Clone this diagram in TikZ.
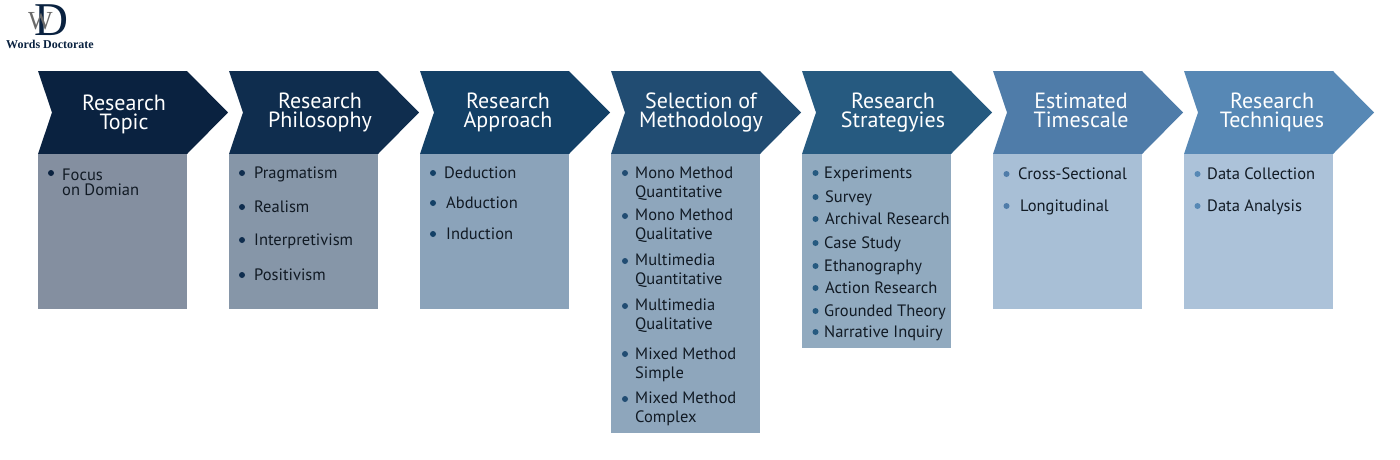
\documentclass[tikz,border=0pt]{standalone}
\usepackage{fontspec}
\setmainfont{PT Sans}
\newfontfamily\logofont{Liberation Serif}
\definecolor{hA}{HTML}{0A2240}\definecolor{bA}{HTML}{848FA0}
\definecolor{hB}{HTML}{0F2D4E}\definecolor{bB}{HTML}{8696A8}
\definecolor{hC}{HTML}{134066}\definecolor{bC}{HTML}{8BA3BA}
\definecolor{hD}{HTML}{214C72}\definecolor{bD}{HTML}{8EA6BC}
\definecolor{hE}{HTML}{265A80}\definecolor{bE}{HTML}{91AABF}
\definecolor{hF}{HTML}{4F7CA9}\definecolor{bF}{HTML}{A8BFD6}
\definecolor{hG}{HTML}{5788B5}\definecolor{bG}{HTML}{ACC2D9}
\definecolor{ink}{HTML}{111A24}
\definecolor{logogrey}{HTML}{6A6A6A}
\tikzset{
  x=1pt,y=-1pt,
  headtext/.style={inner sep=0pt,text=white,align=center,font=\fontsize{22}{19}\selectfont},
  itemtext/.style={inner sep=0pt,anchor=west,text=ink,align=left,text height=11pt,text depth=3pt,font=\fontsize{16.5}{18.8}\selectfont},
  dot/.style={circle,inner sep=0pt,minimum size=6pt},
}
\newcommand{\chev}[3]{%
  \fill[#2] (#1,71) -- (#1+149,71) -- (#1+190,112.5) -- (#1+149,154) -- (#1,154) -- (#1+14,112.5) -- cycle;
  \fill[#3] (#1,154) rectangle (#1+149,\bodyb);
}
\begin{document}
\begin{tikzpicture}
\useasboundingbox (0,0) rectangle (1400,459);
\fill[white] (0,0) rectangle (1400,459);
% logo
\node[inner sep=0pt,text=hA,font=\logofont\fontsize{47}{47}\selectfont] (logoD) at (51,20.5) {D};
\node[inner sep=0pt,text=logogrey,font=\logofont\fontsize{26}{26}\selectfont] (logoW) at (40.5,21.5) {W};
\node[inner sep=0pt,text=hA,font=\logofont\bfseries\fontsize{12}{12}\selectfont] (logoT) at (50,44) {Words Doctorate};
% chevrons and panels
\def\bodyb{309}\chev{38}{hA}{bA}
\def\bodyb{309}\chev{229}{hB}{bB}
\def\bodyb{309}\chev{420}{hC}{bC}
\def\bodyb{433}\chev{611}{hD}{bD}
\def\bodyb{348}\chev{802}{hE}{bE}
\def\bodyb{309}\chev{993}{hF}{bF}
\def\bodyb{309}\chev{1184}{hG}{bG}
% headings
\node[headtext] (h1) at (124,114.5) {Research\\Topic};
\node[headtext] (h2) at (320,112.5) {Research\\Philosophy};
\node[headtext] (h3) at (508,112.5) {Research\\Approach};
\node[headtext] (h4) at (701,112.5) {Selection of\\Methodology};
\node[headtext] (h5) at (893,112.5) {Research\\Strategyies};
\node[headtext] (h6) at (1081,110.5) {Estimated\\Timescale};
\node[headtext] (h7) at (1272,112.5) {Research\\Techniques};
% column 1
\node[dot,fill=hA] (d11) at (51,173) {};
\node[itemtext] (t11) at (62,191.5) {Focus\\[-3.8pt]on Domian};
% column 2
\foreach \n/\y/\t in {1/173/Pragmatism,2/207/Realism,3/240/Interpretivism,4/275/Positivism}{
  \node[dot,fill=hB] (d2\n) at (242,\y) {};
  \node[itemtext] (t2\n) at (254,\y+1.5) {\t};
}
% column 3
\node[dot,fill=hC] (d31) at (433,173) {};
\node[itemtext] (t31) at (444,174.5) {Deduction};
\node[dot,fill=hC] (d32) at (433,203) {};
\node[itemtext] (t32) at (446,204.5) {Abduction};
\node[dot,fill=hC] (d33) at (433,234) {};
\node[itemtext] (t33) at (446,235.5) {Induction};
% column 4
\foreach \n/\yb/\y/\t in {1/173/193.5/{Mono Method\\Quantitative},2/216/235.5/{Mono Method\\Qualitative},3/261/280.5/{Multimedia\\Quantitative},4/306/325.5/{Multimedia\\Qualitative},5/354/374.5/{Mixed Method\\Simple},6/399/418.5/{Mixed Method\\Complex}}{
  \node[dot,fill=hD] (d4\n) at (625,\yb) {};
  \node[itemtext] (t4\n) at (635,\y) {\t};
}
% column 5
\foreach \n/\y/\x/\t in {1/173/824/Experiments,2/197/825/Survey,3/219/825/Archival Research,4/243/824/Case Study,5/266/824/Ethanography,6/288/825/Action Research,7/311/824/Grounded Theory,8/332/824/Narrative Inquiry}{
  \node[dot,fill=hE] (d5\n) at (815.5,\y) {};
  \node[itemtext] (t5\n) at (\x,\y+1.5) {\t};
}
% column 6
\node[dot,fill=hF] (d61) at (1006.5,174) {};
\node[itemtext] (t61) at (1018,175.5) {Cross-Sectional};
\node[dot,fill=hF] (d62) at (1006.5,206) {};
\node[itemtext] (t62) at (1020,207.5) {Longitudinal};
% column 7
\node[dot,fill=hG] (d71) at (1197.5,174) {};
\node[itemtext] (t71) at (1207,175.5) {Data Collection};
\node[dot,fill=hG] (d72) at (1197.5,206) {};
\node[itemtext] (t72) at (1207,207.5) {Data Analysis};
\end{tikzpicture}
\end{document}
